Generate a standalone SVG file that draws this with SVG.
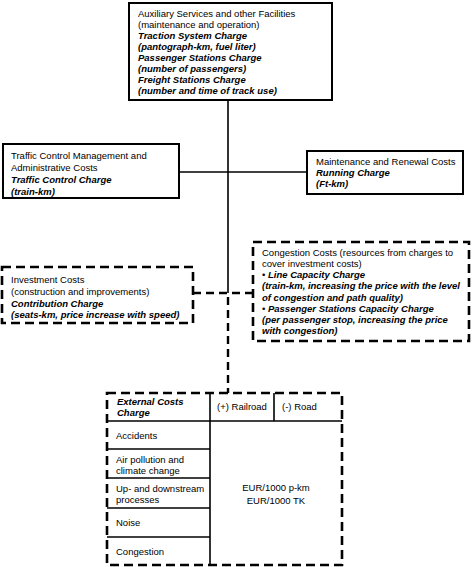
<svg xmlns="http://www.w3.org/2000/svg" width="474" height="567" viewBox="0 0 474 567">
<style>
text{font-family:"Liberation Sans",Arial,sans-serif;font-size:9.5px;fill:#000}
.b{font-weight:bold;font-style:italic}
.solid{fill:#fff;stroke:#000;stroke-width:2}
.dash{fill:none;stroke:#000;stroke-width:2.6;stroke-dasharray:9 5}
.ln{stroke:#000;stroke-width:1.6;fill:none}
.dl{stroke:#000;stroke-width:2.4;fill:none;stroke-dasharray:8 5}
</style>
<rect width="474" height="567" fill="#fff"/>
<g id="connectors">
<line class="ln" x1="228" y1="100" x2="228" y2="293"/>
<line class="ln" x1="179" y1="172" x2="307" y2="172"/>
<line class="dl" x1="193" y1="293" x2="253" y2="293"/>
<line class="dl" x1="228" y1="297" x2="228" y2="393"/>
</g>
<g id="aux">
<rect class="solid" x="129" y="3" width="203" height="97"/>
<text x="138" y="17">Auxiliary Services and other Facilities</text>
<text x="138" y="28">(maintenance and operation)</text>
<text class="b" x="138" y="39">Traction System Charge</text>
<text class="b" x="138" y="50">(pantograph-km, fuel liter)</text>
<text class="b" x="138" y="61">Passenger Stations Charge</text>
<text class="b" x="138" y="72">(number of passengers)</text>
<text class="b" x="138" y="83">Freight Stations Charge</text>
<text class="b" x="138" y="94">(number and time of track use)</text>
</g>
<g id="traffic">
<rect class="solid" x="3" y="144" width="176" height="54"/>
<text x="11" y="159">Traffic Control Management and</text>
<text x="11" y="170.5">Administrative Costs</text>
<text class="b" x="11" y="182.5">Traffic Control Charge</text>
<text class="b" x="11" y="194.5">(train-km)</text>
</g>
<g id="maintenance">
<rect class="solid" x="307" y="151" width="156" height="43"/>
<text x="316" y="164.5">Maintenance and Renewal Costs</text>
<text class="b" x="316" y="176">Running Charge</text>
<text class="b" x="316" y="187">(Ft-km)</text>
</g>
<g id="investment">
<rect class="dash" x="2" y="267" width="191" height="56"/>
<text x="11" y="282.5">Investment Costs</text>
<text x="11" y="295">(construction and improvements)</text>
<text class="b" x="11" y="306.5">Contribution Charge</text>
<text class="b" x="11" y="318">(seats-km, price increase with speed)</text>
</g>
<g id="congestion">
<rect class="dash" x="253" y="242" width="216" height="99"/>
<text x="262" y="256">Congestion Costs (resources from charges to</text>
<text x="262" y="267">cover investment costs)</text>
<text x="262" y="278">• <tspan class="b">Line Capacity Charge</tspan></text>
<text class="b" x="262" y="289">(train-km, increasing the price with the level</text>
<text class="b" x="262" y="300.5">of congestion and path quality)</text>
<text x="262" y="311.5">• <tspan class="b">Passenger Stations Capacity Charge</tspan></text>
<text class="b" x="262" y="322.5"> (per passenger stop, increasing the price</text>
<text class="b" x="262" y="334">with congestion)</text>
</g>
<g id="external">
<line class="ln" x1="107" y1="421" x2="342" y2="421"/>
<line class="ln" x1="210" y1="393" x2="210" y2="565"/>
<line class="ln" x1="274" y1="393" x2="274" y2="421"/>
<line class="ln" x1="107" y1="449" x2="210" y2="449"/>
<line class="ln" x1="107" y1="478" x2="210" y2="478"/>
<line class="ln" x1="107" y1="508" x2="210" y2="508"/>
<line class="ln" x1="107" y1="537" x2="210" y2="537"/>
<rect class="dash" x="107" y="393" width="235" height="172"/>
<text class="b" x="117" y="404.5">External Costs</text>
<text class="b" x="117" y="416">Charge</text>
<text x="217" y="410">(+) Railroad</text>
<text x="282" y="410">(-) Road</text>
<text x="116" y="438.5">Accidents</text>
<text x="116" y="462.5">Air pollution and</text>
<text x="116" y="473.5">climate change</text>
<text x="116" y="491.5">Up- and downstream</text>
<text x="116" y="502.5">processes</text>
<text x="116" y="526">Noise</text>
<text x="116" y="555">Congestion</text>
<text x="276" y="490.5" text-anchor="middle">EUR/1000 p-km</text>
<text x="276" y="504" text-anchor="middle">EUR/1000 TK</text>
</g>
</svg>
